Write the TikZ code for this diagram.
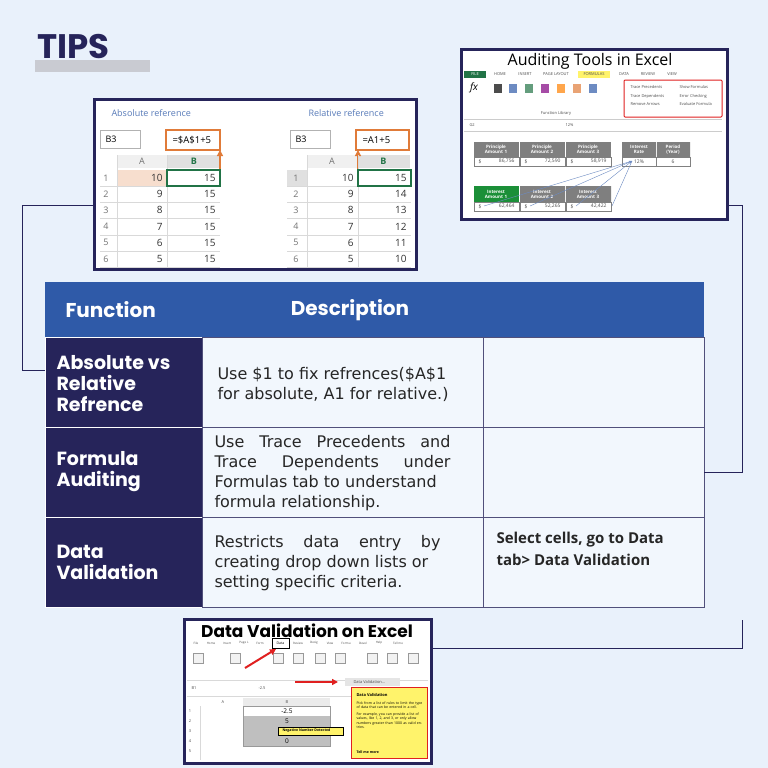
\documentclass[tikz,border=0pt]{standalone}
\usepackage{fontspec}
\setmainfont{Open Sans}
\newfontfamily\headfont{Poppins}
\newfontfamily\descfont{DejaVu Sans}
\usetikzlibrary{arrows.meta,positioning}
\definecolor{bgblue}{HTML}{E9F1FB}
\definecolor{navy}{HTML}{26245A}
\definecolor{hdrblue}{HTML}{2F5AA8}
\definecolor{tipgray}{HTML}{C9CBD2}
\definecolor{xlgreen}{HTML}{217346}
\definecolor{xlorange}{HTML}{E07B39}
\definecolor{xlgray}{HTML}{7F7F7F}
\definecolor{xlyellow}{HTML}{FFF36B}
\definecolor{xlred}{HTML}{E02020}
\newcommand\spreadline[2]{\hbox to #1{#2}}
\tikzset{
  shot/.style={draw=navy,line width=3pt,fill=white},
  link/.style={draw=navy,line width=0.8pt},
  funccell/.style={fill=navy,draw=white,line width=1pt},
  desccell/.style={fill=bgblue!60!white,draw=navy!80,line width=1pt},
  functext/.style={text=white,font=\headfont\bfseries\fontsize{19}{21}\selectfont,align=left,anchor=west},
  desctext/.style={text=black!85,font=\descfont\fontsize{16}{20}\selectfont,anchor=west},
  cellnum/.style={font=\fontsize{10}{10}\selectfont,anchor=east,text=black!80},
  rownum/.style={font=\fontsize{9}{9}\selectfont,text=black!55},
  tiny/.style={font=\fontsize{4}{4}\selectfont,text=black!70},
}
\begin{document}
\begin{tikzpicture}[x=1pt,y=-1pt]
  \fill[bgblue] (0,0) rectangle (768,768);
  \useasboundingbox (0,0) rectangle (768,768);

  % title
  \fill[tipgray] (35,60) rectangle (150,72);
  \node[anchor=west,text=navy,font=\headfont\bfseries\fontsize{34}{34}\selectfont] (tips) at (34,47) {TIPS};

  % screenshot: absolute / relative reference
  \node[shot,minimum width=322,minimum height=170,anchor=north west] (shotref) at (93,98) {};
  \node[text=hdrblue!80,font=\fontsize{9}{9}\selectfont,anchor=west] (absref) at (108,113) {Absolute reference};
  \node[text=hdrblue!80,font=\fontsize{9}{9}\selectfont,anchor=west] (relref) at (305,113) {Relative reference};
  \foreach \ox/\f/\fw in {100/{=\$A\$1+5}/54, 290/{=A1+5}/53}{
    \draw[black!30] (\ox,130) rectangle +(40,18);
    \node[anchor=west,font=\fontsize{9}{9}\selectfont] at (\ox+2,139) {B3};
    \draw[xlorange,line width=1.2pt] (\ox+66,130) rectangle +(\fw,20);
    \node[anchor=west,font=\fontsize{9.5}{9}\selectfont] at (\ox+69,140) {\f};
    \fill[black!6] (\ox+17,155) rectangle +(50,13);
    \fill[black!12] (\ox+67,155) rectangle +(\fw,13);
    \node[font=\fontsize{9}{9}\selectfont,text=black!55] at (\ox+42,161) {A};
    \node[font=\bfseries\fontsize{9}{9}\selectfont,text=xlgreen] at (\ox+67+\fw/2,161) {B};
  }
  \fill[xlorange!25] (117,170) rectangle (167,186);
  \fill[black!12] (287,170) rectangle (307,186);
  \draw[-{Triangle[length=6pt,width=6pt]},xlorange,line width=1.2pt] (220,170) -- (220,150);
  \draw[-{Triangle[length=6pt,width=6pt]},xlorange,line width=1.2pt] (358,170) -- (358,150);
  \foreach \r/\a/\b/\c in {1/10/15/15,2/9/15/14,3/8/15/13,4/7/15/12,5/6/15/11,6/5/15/10}{
    \pgfmathsetmacro\yy{170+(\r-1)*16.2}
    \draw[black!15] (100,\yy+16.2) -- (220,\yy+16.2) (287,\yy+16.2) -- (411,\yy+16.2);
    \node[rownum] at (106,\yy+8) {\r};
    \node[rownum] at (296,\yy+8) {\r};
    \node[cellnum] at (166,\yy+8) {\a};
    \node[cellnum] at (219,\yy+8) {\b};
    \node[cellnum] at (357,\yy+8) {\a};
    \node[cellnum] at (410,\yy+8) {\c};
  }
  \draw[black!15] (117,155) -- (117,267) (167,155) -- (167,267) (307,155) -- (307,267) (358,155) -- (358,267);
  \draw[xlgreen,line width=1.3pt] (167,170) rectangle (220,186) (358,170) rectangle (411,186);

  % screenshot: auditing tools
  \node[shot,minimum width=266,minimum height=170,anchor=north west] (shotaudit) at (460,48) {};
  \node[font=\fontsize{16}{16}\selectfont] (audtitle) at (590,61) {Auditing Tools in Excel};
  \fill[xlgreen] (464,71) rectangle (486,78);
  \node[tiny,text=white] at (475,74.5) {FILE};
  \fill[xlyellow] (578,71) rectangle (610,78);
  \node[tiny] at (594,74.5) {FORMULAS};
  \foreach \x/\t in {500/HOME,525/INSERT,556/PAGE LAYOUT,624/DATA,648/REVIEW,672/VIEW}
    \node[tiny] at (\x,74.5) {\t};
  \foreach \x/\c in {498/black,513/hdrblue,529/xlgreen,545/violet,561/orange,577/xlorange,593/hdrblue}
    \fill[\c!70] (\x-4,84) rectangle +(8,9);
  \node[font=\fontsize{10}{10}\selectfont\itshape] at (474,88) {fx};
  \draw[xlred,line width=1pt,rounded corners=1pt] (624,80) rectangle (722,117);
  \foreach \y/\t/\u in {87/Trace Precedents/Show Formulas,96/Trace Dependents/Error Checking,104/Remove Arrows/Evaluate Formula}{
    \node[tiny,anchor=west] at (627,\y) {\t};
    \node[tiny,anchor=west] at (676,\y) {\u};
  }
  \node[tiny] at (556,113) {Function Library};
  \draw[black!20] (464,119) -- (722,119) (464,131) -- (722,131);
  \node[tiny,anchor=west] at (466,125) {G2};
  \node[tiny,anchor=west] at (562,125) {12\%};
  \foreach \x in {474,520,566}
    \fill[xlgray] (\x,142) rectangle +(45,15);
  \fill[xlgray] (622,142) rectangle +(34,15) (657,142) rectangle +(33,15);
  \foreach \x/\t in {474/Principle Amount 1,520/Principle Amount 2,566/Principle Amount 3}
    \node[tiny,text=white,font=\bfseries\fontsize{4.5}{5}\selectfont,text width=40,align=center] at (\x+22,149.5) {\t};
  \node[text=white,font=\bfseries\fontsize{4.5}{5}\selectfont,text width=24,align=center,inner sep=0pt] at (639,149.5) {Interest Rate};
  \node[text=white,font=\bfseries\fontsize{4.5}{5}\selectfont,text width=24,align=center,inner sep=0pt] at (673,149.5) {Period (Year)};
  \foreach \x/\v in {474/{86,756},520/{72,590},566/{58,919}}{
    \draw[black!50] (\x,157) rectangle +(45,9);
    \node[tiny,anchor=east,font=\fontsize{5}{5}\selectfont] at (\x+44,161.5) {\v};
    \node[tiny,anchor=west,font=\fontsize{5}{5}\selectfont] at (\x+1,161.5) {\$};
  }
  \draw[black!50] (622,157) rectangle +(34,9) (656,157) rectangle +(34,9);
  \node[tiny,font=\fontsize{5}{5}\selectfont] at (639,161.5) {12\%};
  \node[tiny,font=\fontsize{5}{5}\selectfont] at (673,161.5) {6};
  \fill[xlgreen!80!green] (474,186) rectangle +(45,16);
  \fill[xlgray] (520,186) rectangle +(45,16) (566,186) rectangle +(45,16);
  \foreach \x/\t in {474/Interest Amount 1,520/Interest Amount 2,566/Interest Amount 3}
    \node[text=white,font=\bfseries\fontsize{4.5}{5}\selectfont,text width=40,align=center] at (\x+22,194) {\t};
  \foreach \x/\v in {474/{62,464},520/{52,265},566/{42,422}}{
    \draw[black!50] (\x,202) rectangle +(45,9);
    \node[tiny,anchor=east,font=\fontsize{5}{5}\selectfont] at (\x+44,206.5) {\v};
    \node[tiny,anchor=west,font=\fontsize{5}{5}\selectfont] at (\x+1,206.5) {\$};
    \draw[hdrblue!70,-{Stealth[length=3pt]}] (\x+10,206) -- (632,161);
  }
  \draw[hdrblue!70] (612,206) -- (632,161);

  % screenshot: data validation
  \node[shot,minimum width=247,minimum height=144,anchor=north west] (shotvalid) at (183,618) {};
  \node[font=\headfont\bfseries\fontsize{17}{17}\selectfont] (valtitle) at (307,631) {Data Validation on Excel};
  \foreach \x/\t in {196/File,211/Home,227/Insert,244/Page L,260/Form,298/Review,314/Desig,330/View,346/Formu,363/Devel,379/Help,398/Tell me}
    \node[font=\fontsize{3}{3}\selectfont,text=black!70,inner sep=0pt] at (\x,643) {\t};
  \draw[black,line width=0.8pt] (272,638) rectangle (289,648);
  \node[font=\fontsize{3.5}{3}\selectfont,inner sep=0pt] at (280.5,643) {Data};
  \foreach \x in {198,235,278,298,320,340,372,392,413}
    \draw[black!40,fill=black!5] (\x-5,653) rectangle +(10,10);
  \draw[black!15] (187,680) -- (428,680) (187,696) -- (428,696);
  \node[tiny,anchor=west] at (188,688) {B1};
  \node[tiny,anchor=west] at (255,688) {-2.5};
  \fill[black!8] (243,698) rectangle (330,706);
  \node[tiny] at (223,702) {A};
  \node[tiny] at (287,702) {B};
  \fill[black!25] (243,716) rectangle (330,746);
  \draw[black!40] (243,706) rectangle (330,746);
  \foreach \r/\v in {1/-2.5,2/5,3/8,4/0,5/{}}{
    \pgfmathsetmacro\yy{706+(\r-1)*10}
    \node[tiny] at (190,\yy+5) {\r};
    \node[font=\fontsize{6.5}{6}\selectfont] at (287,\yy+5) {\v};
  }
  \draw[black!15] (200,706) -- (200,760);
  \fill[xlyellow] (278,727) rectangle (343,735);
  \draw[black] (278,727) rectangle (343,735);
  \node[font=\bfseries\fontsize{3.5}{4}\selectfont,anchor=west] at (279,731) {Negative Number Detected};
  \fill[black!10] (345,678) rectangle (400,686);
  \node[tiny,anchor=west] at (350,682) {Data Validation...};
  \fill[xlyellow] (351,687) rectangle (427,758);
  \draw[xlred,line width=1pt] (351,687) rectangle (427,758);
  \node[font=\bfseries\fontsize{4}{4}\selectfont,anchor=north west] at (353,690) {Data Validation};
  \node[font=\fontsize{3.5}{4.5}\selectfont,anchor=north west,text width=68,align=left] at (353,698)
    {Pick from a list of rules to limit the type of data that can be entered in a cell.\\[2pt]For example, you can provide a list of values, like 1, 2, and 3, or only allow numbers greater than 1000 as valid entries.};
  \node[font=\bfseries\fontsize{3.5}{4}\selectfont,anchor=west] at (353,752) {Tell me more};
  \draw[xlred,line width=2pt,-{Triangle[length=6pt,width=6pt]}] (245,668) -- (276,649);
  \draw[xlred,line width=2pt,-{Triangle[length=6pt,width=6pt]}] (295,682) -- (338,682);

  % table
  \fill[hdrblue] (45,282) rectangle (704,337);
  \node[anchor=west,text=white,font=\headfont\bfseries\fontsize{20}{20}\selectfont] (hfunc) at (62,310) {Function};
  \node[text=white,font=\headfont\bfseries\fontsize{20}{20}\selectfont] (hdesc) at (350,310) {Description};
  \foreach \y in {337,427,517}{
    \fill[funccell] (45,\y) rectangle (202,\y+90.5);
    \draw[desccell] (202,\y) rectangle (483,\y+90.5);
    \draw[desccell] (483,\y) rectangle (704,\y+90.5);
  }
  \node[functext] (fabs) at (53,384) {Absolute vs\\Relative\\Refrence};
  \node[functext] (faud) at (53,472) {Formula\\Auditing};
  \node[functext] (fval) at (53,562) {Data\\Validation};
  \node[desctext,align=left] (dabs) at (214,384) {Use \$1 to fix refrences(\$A\$1\\for absolute, A1 for relative.)};
  \node[desctext,align=left] (daud) at (211,473) {\spreadline{236pt}{Use\hfil Trace\hfil Precedents\hfil and}\\\spreadline{236pt}{Trace\hfil Dependents\hfil under}\\Formulas tab to understand\\formula relationship.};
  \node[desctext,align=left] (dval) at (211,563) {\spreadline{226pt}{Restricts\hfil data\hfil entry\hfil by}\\creating drop down lists or\\setting specific criteria.};
  \node[desctext,font=\bfseries\fontsize{15}{22}\selectfont,align=left] (tval) at (493,549) {Select cells, go to Data\\tab> Data Validation};

  % connectors
  \coordinate (tabl) at (45,370);
  \coordinate (tabr) at (704,472);
  \coordinate (valend) at (742,620);
  \draw[link] (shotref.west |- 0,205) -| (22,370) -- (tabl);
  \draw[link] (shotaudit.east |- 0,205) -| (742,472) -- (tabr);
  \draw[link] (shotvalid.east |- 0,648) -| (valend);
\end{tikzpicture}
\end{document}
